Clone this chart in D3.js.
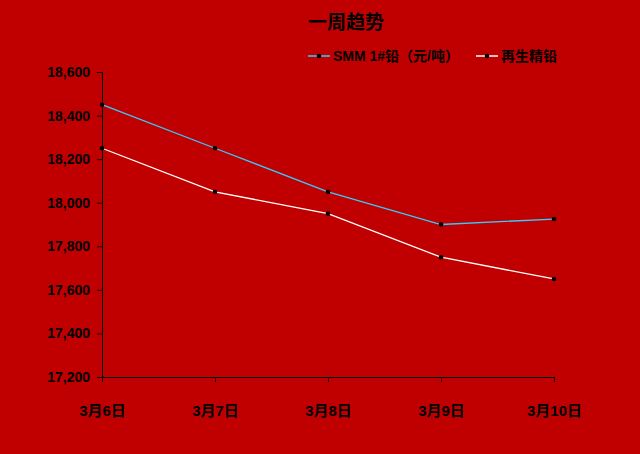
<!DOCTYPE html>
<html><head><meta charset="utf-8">
<script src="https://cdn.jsdelivr.net/npm/d3@7"></script>
<style>body{margin:0;background:#C00000;}text{font-family:"Liberation Sans","Noto Sans CJK SC",sans-serif;font-weight:bold;}</style>
</head><body><svg id="c" width="640" height="454"></svg>
<script>
const dates = ["3月6日", "3月7日", "3月8日", "3月9日", "3月10日"];
const smm = [18450, 18250, 18050, 17900, 17925];
const recycled = [18250, 18050, 17950, 17750, 17650];
const yTicks = [17200, 17400, 17600, 17800, 18000, 18200, 18400, 18600];

const svg = d3.select("#c");
svg.append("rect").attr("width", 640).attr("height", 454).attr("fill", "#C00000");

const x = d3.scalePoint().domain(dates).range([102, 554]);
const y = d3.scaleLinear().domain([17200, 18600]).range([377, 72]);

// y axis
const ya = svg.append("g").attr("transform", "translate(102,0)")
  .call(d3.axisLeft(y).tickValues(yTicks).tickSize(5).tickFormat(d3.format(",")));
ya.selectAll("text").attr("font-size", 14).attr("fill", "#000").attr("dx", -4);
ya.selectAll("line,path").attr("stroke", "#000");

// x axis
const xa = svg.append("g").attr("transform", "translate(0,377)")
  .call(d3.axisBottom(x).tickSize(5).tickSizeOuter(0));
xa.selectAll("text").attr("font-size", 15).attr("fill", "#000").attr("y", 28);
xa.selectAll("line,path").attr("stroke", "#000");

const line = d3.line().x((d, i) => x(dates[i])).y(d => y(d));
[[smm, "#33CCFF"], [recycled, "#FFFFFF"]].forEach(([s, c]) => {
  svg.append("path").attr("d", line(s)).attr("fill", "none").attr("stroke", c).attr("stroke-width", 1.3);
  svg.selectAll(null).data(s).enter().append("circle")
    .attr("cx", (d, i) => x(dates[i])).attr("cy", d => y(d)).attr("r", 2.3).attr("fill", "#000");
});

svg.append("text").attr("x", 346).attr("y", 29).attr("text-anchor", "middle")
  .attr("font-size", 19).attr("fill", "#000").text("一周趋势");

const legend = [["SMM 1#铅（元/吨）", "#33CCFF", 308], ["再生精铅", "#FFFFFF", 476]];
legend.forEach(([t, c, lx]) => {
  svg.append("line").attr("x1", lx).attr("x2", lx + 22).attr("y1", 56).attr("y2", 56).attr("stroke", c).attr("stroke-width", 1.5);
  svg.append("circle").attr("cx", lx + 11).attr("cy", 56).attr("r", 2.3).attr("fill", "#000");
  svg.append("text").attr("x", lx + 25).attr("y", 61).attr("font-size", 14).attr("fill", "#000").text(t);
});
</script></body></html>
